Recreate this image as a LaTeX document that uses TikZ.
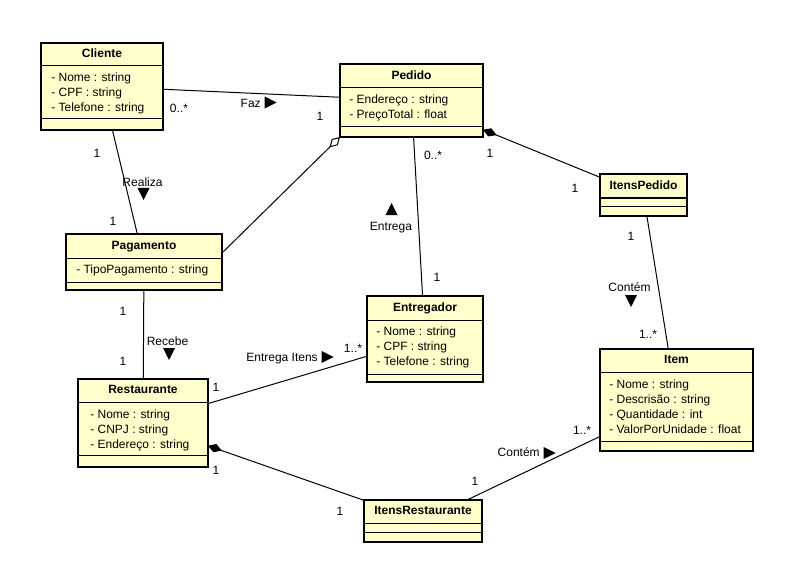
\documentclass[tikz,border=0pt]{standalone}
\usepackage{fontspec}
\setmainfont{Liberation Sans}
\usetikzlibrary{arrows.meta,calc}
\definecolor{clsfill}{HTML}{FFFFCC}
\newcommand\umlclass[8]{%
  \node[clsbox, anchor=north west, minimum width={(#4-#2)*0.75pt}, minimum height={(#5-#3)*0.75pt}] (#1) at (#2,#3) {};
  \draw[sepline] (#2,#6) -- (#4,#6);
  \draw[sepline] (#2,#7) -- (#4,#7);
  \node[ttl] (#1-t) at ({(#2+#4)/2},{(#3+#6)/2}) {#8};
}
\begin{document}
\begin{tikzpicture}[x=0.75pt,y=-0.75pt,
  clsbox/.style={draw=black, line width=1.5pt, fill=clsfill, inner sep=0pt, outer sep=0pt},
  sepline/.style={line width=0.75pt},
  ttl/.style={font=\bfseries\fontsize{9}{11}\selectfont, inner sep=0pt, text height=6.5pt, text depth=1.9pt},
  attr/.style={font=\fontsize{9}{11}\selectfont, inner sep=0pt, anchor=west, text height=6.5pt, text depth=1.9pt},
  lbl/.style={font=\fontsize{9}{11}\selectfont, inner sep=0pt, text height=6.5pt, text depth=1.9pt},
  assoc/.style={line width=0.75pt},
  dirtri/.style={fill=black},
  odiam/.style={{Diamond[length=11pt,width=6.5pt,open,fill=white]}-},
  fdiam/.style={{Diamond[length=11pt,width=6.5pt]}-},
]
\useasboundingbox (0,0) rectangle (810,574);

% classes
\umlclass{cliente}{41}{43}{163}{130}{66}{119}{Cliente}
\node[attr] (cliente-a1) at (51,78) {- Nome : string};
\node[attr] (cliente-a2) at (51,93) {- CPF : string};
\node[attr] (cliente-a3) at (51,108) {- Telefone : string};

\umlclass{pedido}{340}{64}{483}{137}{88}{127}{Pedido}
\node[attr] (pedido-a1) at (349,100) {- Endereço : string};
\node[attr] (pedido-a2) at (349,115) {- PreçoTotal : float};

\umlclass{pagamento}{66}{234}{222}{290}{258}{282}{Pagamento}
\node[attr] (pagamento-a1) at (76,270) {- TipoPagamento : string};

\umlclass{entregador}{367}{296}{483}{382}{320}{374}{Entregador}
\node[attr] (entregador-a1) at (376,332) {- Nome : string};
\node[attr] (entregador-a2) at (376,347) {- CPF : string};
\node[attr] (entregador-a3) at (376,362) {- Telefone : string};

\umlclass{restaurante}{78}{379}{208}{467}{402}{455}{Restaurante}
\node[attr] (restaurante-a1) at (90,415) {- Nome : string};
\node[attr] (restaurante-a2) at (90,430) {- CNPJ : string};
\node[attr] (restaurante-a3) at (90,445) {- Endereço : string};

\umlclass{itensrest}{364}{500}{482}{542}{523}{532}{ItensRestaurante}

\umlclass{itenspedido}{600}{174}{687}{216}{198}{206}{ItensPedido}

\umlclass{item}{600}{349}{753}{451}{372}{441}{Item}
\node[attr] (item-a1) at (609,385) {- Nome : string};
\node[attr] (item-a2) at (609,400) {- Descrisão : string};
\node[attr] (item-a3) at (609,415) {- Quantidade : int};
\node[attr] (item-a4) at (609,430) {- ValorPorUnidade : float};

% connectors
\coordinate (pagR) at (222,253);
\draw[assoc] (cliente) -- (pedido);
\draw[assoc] (cliente) -- (pagamento);
\draw[assoc, odiam] (pedido.south west) -- (pagR);
\draw[assoc] (pedido) -- (entregador);
\draw[assoc, fdiam] (pedido) -- (itenspedido);
\draw[assoc] (itenspedido) -- (item);
\draw[assoc] (pagamento) -- (restaurante);
\draw[assoc] (restaurante) -- (entregador);
\draw[assoc, fdiam] (restaurante) -- (itensrest);
\draw[assoc] (itensrest) -- (item);

% association names
\node[lbl, anchor=east] (l-faz) at (261,104) {Faz};
\fill[dirtri, shift={(270.5,102.5)}] (-6,-6) -- (6,0) -- (-6,6) -- cycle;
\node[lbl] (l-realiza) at (142.5,183) {Realiza};
\fill[dirtri, shift={(143.5,194)}] (-6,-6) -- (6,-6) -- (0,6) -- cycle;
\node[lbl] (l-entrega) at (391,227) {Entrega};
\fill[dirtri, shift={(391.5,209)}] (-6,6) -- (6,6) -- (0,-6) -- cycle;
\node[lbl] (l-contem1) at (629.5,288) {Contém};
\fill[dirtri, shift={(631,301)}] (-6,-6) -- (6,-6) -- (0,6) -- cycle;
\node[lbl, anchor=east] (l-contem2) at (540,453) {Contém};
\fill[dirtri, shift={(549.5,453)}] (-6,-6) -- (6,0) -- (-6,6) -- cycle;
\node[lbl] (l-recebe) at (167.5,342) {Recebe};
\fill[dirtri, shift={(169,354)}] (-6,-6) -- (6,-6) -- (0,6) -- cycle;
\node[lbl, anchor=east] (l-entregaitens) at (318,358) {Entrega Itens};
\fill[dirtri, shift={(327.5,357)}] (-6,-6) -- (6,0) -- (-6,6) -- cycle;

% multiplicities
\node[lbl] (m1) at (179,109) {0..*};
\node[lbl] (m2) at (320,117) {1};
\node[lbl] (m3) at (97,154) {1};
\node[lbl] (m4) at (113,222) {1};
\node[lbl] (m5) at (433,156) {0..*};
\node[lbl] (m6) at (490,154) {1};
\node[lbl] (m7) at (437,278) {1};
\node[lbl] (m8) at (575,189) {1};
\node[lbl] (m9) at (631,237) {1};
\node[lbl] (m10) at (648,335) {1..*};
\node[lbl] (m11) at (582,431) {1..*};
\node[lbl] (m12) at (123,312) {1};
\node[lbl] (m13) at (123,362) {1};
\node[lbl] (m14) at (216,388) {1};
\node[lbl] (m15) at (353,349) {1..*};
\node[lbl] (m16) at (216,471) {1};
\node[lbl] (m17) at (340,512) {1};
\node[lbl] (m18) at (475,482) {1};
\end{tikzpicture}
\end{document}
